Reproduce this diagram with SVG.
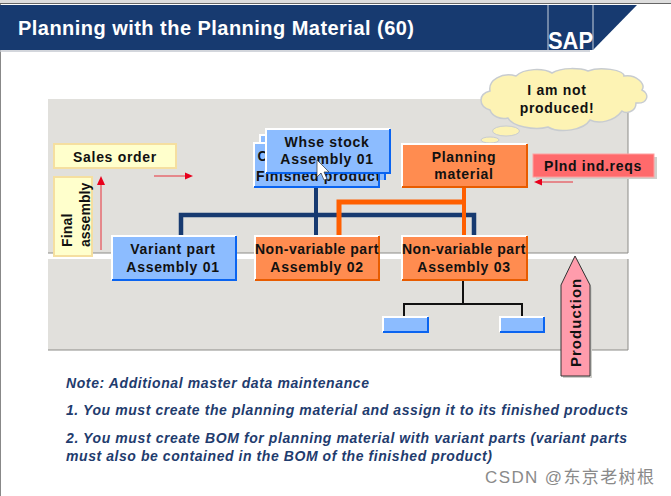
<svg xmlns="http://www.w3.org/2000/svg" width="671" height="496" viewBox="0 0 671 496">
<style>
text{font-family:"Liberation Sans",Arial,sans-serif;fill:#111;font-weight:bold}
.n{font-size:14px;letter-spacing:.7px;text-anchor:middle}
.note{font-size:14px;font-style:italic;fill:#1f3c6e}
.blue{fill:#8cbcff}.or{fill:#ff8c50}
.wl{stroke:#fff;stroke-width:2;fill:none}
.bb{stroke:#0a64f0;stroke-width:2;fill:none}
.ob{stroke:#e85c00;stroke-width:2;fill:none}
.red{stroke:#e8303a;stroke-width:1;fill:none}
.redh{fill:#e8001c}
</style>
<defs><clipPath id="fp"><rect x="250" y="165" width="128" height="22"/></clipPath></defs>
<rect width="671" height="496" fill="#fff"/>
<rect x="0" y="0" width="671" height="3" fill="#ddd"/>
<rect x="0" y="3" width="671" height="1" fill="#666"/>
<rect x="0" y="4" width="1" height="492" fill="#888"/>
<g id="header">
<path d="M0 5H637L593 50H0Z" fill="#173a70"/>
<path d="M0 51H590" stroke="#c4c8d0" stroke-width="1.500" fill="none"/>
<path d="M548 5V50M593 5V50" stroke="#c8d0dc" stroke-width="1" fill="none"/>
<text x="18" y="35" font-size="20" style="fill:#fff" textLength="396" lengthAdjust="spacing">Planning with the Planning Material (60)</text>
<text x="548" y="49" font-size="24" style="fill:#fff" textLength="45" lengthAdjust="spacingAndGlyphs">SAP</text>
</g>
<g id="bands">
<rect x="48" y="99" width="580" height="154" fill="#e1e0dc"/>
<path d="M48 253H628V99" stroke="#8c8c88" fill="none"/>
<rect x="48" y="259" width="580" height="91" fill="#e1e0dc"/>
<path d="M48 350H628V259" stroke="#8c8c88" fill="none"/>
</g>
<g id="connectors" fill="none">
<path d="M316 186V236" stroke="#173a70" stroke-width="4"/>
<path d="M181 236V215H474V236" stroke="#173a70" stroke-width="4.500"/>
<path d="M464 186V236" stroke="#ff5f00" stroke-width="4"/>
<path d="M339 236V202H464" stroke="#ff5f00" stroke-width="5"/>
<path d="M463 280V304M404 317V304H522V317" stroke="#111" stroke-width="2"/>
<path d="M101 250V183" class="red"/><path d="M101 176L105 185H97Z" class="redh"/>
<path d="M154 176H186" class="red"/><path d="M193 176L185 172.500V179.500Z" class="redh"/>
<path d="M573 182H540" class="red"/><path d="M534 182L542 178.500V185.500Z" class="redh"/>
</g>
<g id="cloud">
<path d="M490 110C478 106 478 94 490 91C488 80 502 72 516 76C524 68 544 68 552 73C562 67 580 68 588 71C600 66 624 70 624 76C636 74 646 84 642 90C650 94 648 104 636 103C636 112 626 114 622 111C614 122 598 124 590 120C584 130 560 134 548 127C534 131 512 126 508 118C500 120 492 116 490 110Z" fill="#fdf3b4" stroke="#c8ccd0" stroke-width="1.500"/>
<ellipse cx="506" cy="131" rx="13.500" ry="5" fill="#fdf3b4" stroke="#c8ccd0"/>
<ellipse cx="490" cy="140" rx="9" ry="3" fill="#fdf3b4" stroke="#c8ccd0"/>
<text x="557" y="95" class="n">I am not</text>
<text x="557" y="113" class="n">produced!</text>
</g>
<g id="sales-order">
<rect x="54" y="144" width="122" height="24" fill="#ffffcc" stroke="#f5dfa0" stroke-width="2"/>
<text x="115" y="162" class="n">Sales order</text>
</g>
<g id="final-assembly">
<rect x="54" y="177" width="38" height="79" fill="#ffffcc" stroke="#f5dfa0" stroke-width="2"/>
<text class="n" transform="translate(72,247) rotate(-90)" style="text-anchor:start" textLength="34">Final</text>
<text class="n" transform="translate(90,247) rotate(-90)" style="text-anchor:start" textLength="65">assembly</text>
</g>
<g id="finished-product">
<rect x="260" y="135" width="125" height="45" class="blue"/>
<path d="M260 180V135H385" class="wl"/><path d="M385 135V180" class="bb"/>
<rect x="254" y="143" width="125" height="44" class="blue"/>
<path d="M254 187V143H379" class="wl"/><path d="M379 143V187H254" class="bb"/>
<text x="263" y="161" class="n">C</text>
<text x="256" y="181" class="n" style="text-anchor:start" clip-path="url(#fp)">Finished product</text>
</g>
<g id="whse-stock">
<rect x="266" y="129" width="124" height="44" class="blue"/>
<path d="M266 173V129H390" class="wl"/><path d="M390 129V173H266" class="bb"/>
<text x="327" y="147" class="n">Whse stock</text>
<text x="327" y="164" class="n">Assembly 01</text>
<path d="M317 160V177L321 173L324 180L327 179L324 172H329Z" fill="#fff" stroke="#333" stroke-width=".7"/>
</g>
<g id="planning-material">
<rect x="402" y="144" width="125" height="43" class="or"/>
<path d="M402 187V144H527" class="wl"/><path d="M527 144V187H402" class="ob"/>
<text x="464" y="162" class="n">Planning</text>
<text x="464" y="179" class="n">material</text>
</g>
<g id="plnd-ind-reqs">
<rect x="536" y="157" width="121" height="22" fill="#cfcfcb"/>
<rect x="533" y="154" width="121" height="23" fill="#ff6a6c" stroke="#ffa0a0"/>
<text x="593" y="171" class="n">Plnd ind.reqs</text>
</g>
<g id="variant-part">
<rect x="112" y="236" width="124" height="44" class="blue"/>
<path d="M112 280V236H236" class="wl"/><path d="M236 236V280H112" class="bb"/>
<text x="173" y="254" class="n">Variant part</text>
<text x="173" y="272" class="n">Assembly 01</text>
</g>
<g id="non-variable-02">
<rect x="255" y="236" width="124" height="44" class="or"/>
<path d="M255 280V236H379" class="wl"/><path d="M379 236V280H255" class="ob"/>
<text x="317" y="254" class="n" textLength="124">Non-variable part</text>
<text x="317" y="272" class="n">Assembly 02</text>
</g>
<g id="non-variable-03">
<rect x="402" y="236" width="125" height="44" class="or"/>
<path d="M402 280V236H527" class="wl"/><path d="M527 236V280H402" class="ob"/>
<text x="464" y="254" class="n" textLength="124">Non-variable part</text>
<text x="464" y="272" class="n">Assembly 03</text>
</g>
<g id="child-1">
<rect x="383" y="317" width="45" height="15" class="blue"/>
<path d="M383 332V317H428" class="wl"/><path d="M428 317V332H383" class="bb"/>
</g>
<g id="child-2">
<rect x="500" y="317" width="44" height="15" class="blue"/>
<path d="M500 332V317H544" class="wl"/><path d="M544 317V332H500" class="bb"/>
</g>
<g id="production">
<path d="M563 378V288L577 259L592 288V378Z" fill="#cfcfcb"/>
<path d="M561 376V285L575 256L590 285V376Z" fill="#ff9cac" stroke="#333"/>
<text class="n" transform="translate(581,322.500) rotate(-90)" style="font-size:15px" textLength="89">Production</text>
</g>
<g id="notes">
<text x="66" y="388" class="note" textLength="303">Note: Additional master data maintenance</text>
<text x="66" y="415" class="note" textLength="562">1. You must create the planning material and assign it to its finished products</text>
<text x="66" y="443" class="note" textLength="561">2. You must create BOM for planning material with variant parts (variant parts</text>
<text x="66" y="461" class="note" textLength="426">must also be contained in the BOM of the finished product)</text>
</g>
<text id="watermark" x="485" y="483" font-size="17" textLength="169" style="font-weight:normal;fill:#8a8a8a;font-family:'Liberation Sans','Noto Sans CJK SC',sans-serif">CSDN @东京老树根</text>
</svg>
